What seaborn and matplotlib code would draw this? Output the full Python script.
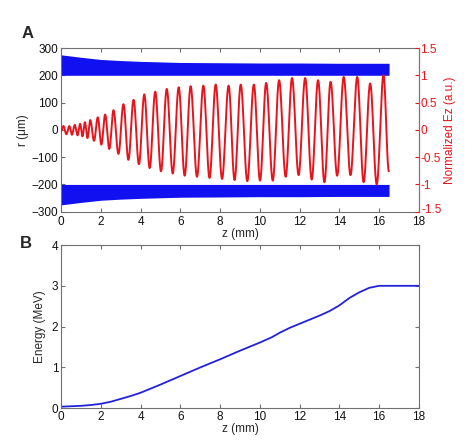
import numpy as np
import pandas as pd
import matplotlib
matplotlib.use("Agg")
import matplotlib.pyplot as plt
import matplotlib.transforms as mtransforms
import seaborn as sns

# Panel A: electrode (blue band) outer edge, r in um
band_z = [0, 1, 2, 3, 4, 5, 6, 8, 10, 12, 14, 16.5]
band_top = [275, 266, 258, 254, 251, 249, 247, 246, 245, 245, 244, 244]
band_inner = 200

# Panel A: extrema of normalized Ez
peak_z = [0.12, 0.42, 0.69, 0.96, 1.2, 1.47, 1.85, 2.22, 2.64, 3.14,
          3.65, 4.19, 4.74, 5.32, 5.92, 6.52, 7.16, 7.78, 8.43, 9.04,
          9.70, 10.32, 10.97, 11.62, 12.28, 12.93, 13.56, 14.22, 14.90, 15.55,
          16.22]
peak_ez = [0.07, 0.07, 0.09, 0.11, 0.14, 0.18, 0.23, 0.28, 0.36, 0.47,
           0.55, 0.65, 0.70, 0.75, 0.78, 0.80, 0.81, 0.83, 0.81, 0.83,
           0.83, 0.86, 0.91, 0.95, 0.95, 0.91, 0.88, 0.97, 0.97, 0.85,
           1.0]
trough_z = [0.27, 0.55, 0.83, 1.08, 1.33, 1.66, 2.03, 2.43, 2.89, 3.39,
            3.92, 4.46, 5.03, 5.62, 6.22, 6.84, 7.47, 8.10, 8.73, 9.37,
            10.01, 10.65, 11.30, 11.95, 12.61, 13.25, 13.89, 14.56, 15.22, 15.88]
trough_ez = [-0.08, -0.09, -0.10, -0.12, -0.15, -0.20, -0.27, -0.35, -0.44, -0.55,
             -0.63, -0.70, -0.76, -0.80, -0.84, -0.86, -0.88, -0.90, -0.92, -0.94,
             -0.93, -0.93, -0.86, -0.83, -0.91, -0.96, -0.84, -0.83, -0.96, -1.0]
ez_start = (0.0, -0.02)
ez_end = (16.49, -0.76)

# Panel B: energy gain
energy_z = [0, 0.5, 1, 1.5, 2, 2.5, 3, 3.5, 4, 5, 6, 7, 8, 9, 10, 10.6, 11, 11.5,
            12, 13, 13.5, 14, 14.5, 15, 15.5, 16, 17, 18]
energy_mev = [0.04, 0.05, 0.06, 0.08, 0.11, 0.16, 0.23, 0.30, 0.38, 0.58, 0.79,
              1.00, 1.20, 1.41, 1.61, 1.74, 1.85, 1.97, 2.07, 2.27, 2.38, 2.52,
              2.70, 2.84, 2.95, 3.0, 3.0, 3.0]

# order the extrema and draw smooth half-waves between them
ext = [ez_start]
for i in range(len(peak_z)):
    ext.append((peak_z[i], peak_ez[i]))
    if i < len(trough_z):
        ext.append((trough_z[i], trough_ez[i]))
ext.append(ez_end)
zs, vs = [], []
for (z0, v0), (z1, v1) in zip(ext[:-1], ext[1:]):
    t = np.linspace(0, 1, 20, endpoint=False)
    zs.extend(z0 + (z1 - z0) * t)
    vs.extend(v0 + (v1 - v0) * (1 - np.cos(np.pi * t)) / 2)
zs.append(ez_end[0])
vs.append(ez_end[1])
ez_df = pd.DataFrame({"z": zs, "ez": vs})
energy_df = pd.DataFrame({"z": energy_z, "E": energy_mev})

sns.set_style("ticks")
plt.rcParams["font.family"] = ["Liberation Sans", "DejaVu Sans"]
plt.rcParams["font.size"] = 8.5

fig = plt.figure(figsize=(4.74, 4.47), dpi=100)
ax1 = fig.add_axes([0.1287, 0.5264, 0.755, 0.3662])
ax2 = fig.add_axes([0.1287, 0.0866, 0.755, 0.3653])

spine_col = "#707070"
blue = "#1010f0"
red = "#e8141c"

# bands
ax1.fill_between(band_z, band_inner, band_top, color=blue, linewidth=0)
ax1.fill_between(band_z, [-b for b in band_top], -band_inner, color=blue, linewidth=0)
ax1.set_xlim(0, 18)
ax1.set_ylim(-300, 300)
ax1.set_xticks(range(0, 19, 2))
ax1.set_yticks(range(-300, 301, 100))
ax1.set_xlabel("z (mm)", labelpad=0)
ax1.set_ylabel("r (\u03bcm)", labelpad=2)
ax1.tick_params(direction="in", length=3, top=True, right=False, pad=2,
                color=spine_col, labelsize=8.5, labelcolor="#111111")
ax1.tick_params(axis="x", pad=3)

ax1r = ax1.twinx()
sns.lineplot(data=ez_df, x="z", y="ez", ax=ax1r, color=red, linewidth=1.4,
             sort=False, estimator=None)
ax1r.set_ylim(-1.5, 1.5)
ax1r.set_yticks([-1.5, -1, -0.5, 0, 0.5, 1, 1.5])
ax1r.set_yticklabels(["-1.5", "-1", "-0.5", "0", "0.5", "1", "1.5"])
ax1r.set_ylabel("Normalized Ez (a.u.)", color=red, labelpad=2)
ax1r.tick_params(axis="y", direction="in", length=3, colors=red, pad=1,
                 labelsize=8.5)
ax1r.spines["right"].set_color("#c8506a")
for s in ["left", "top", "bottom"]:
    ax1r.spines[s].set_visible(False)
# nudge the bottom right label up a little so it clears the "18"
lab = ax1r.get_yticklabels()[0]
lab.set_transform(lab.get_transform() + mtransforms.ScaledTranslation(1 / 100, 3 / 100, fig.dpi_scale_trans))

for s in ax1.spines.values():
    s.set_color(spine_col)
    s.set_linewidth(0.8)

# panel B
sns.lineplot(data=energy_df, x="z", y="E", ax=ax2, color="#2222dd", linewidth=1.3)
ax2.set_xlim(0, 18)
ax2.set_ylim(0, 4)
ax2.set_xticks(range(0, 19, 2))
ax2.set_yticks(range(0, 5))
ax2.set_xlabel("z (mm)", labelpad=0)
ax2.set_ylabel("Energy (MeV)", labelpad=4)
ax2.tick_params(direction="in", length=3, top=True, right=True, pad=2,
                color=spine_col, labelsize=8.5, labelcolor="#111111")
for s in ax2.spines.values():
    s.set_color(spine_col)
    s.set_linewidth(0.8)

fig.text(0.045, 0.925, "A", fontsize=12, fontweight="bold", va="center")
fig.text(0.042, 0.455, "B", fontsize=12, fontweight="bold", va="center")

fig.savefig("out.png", dpi=100)
